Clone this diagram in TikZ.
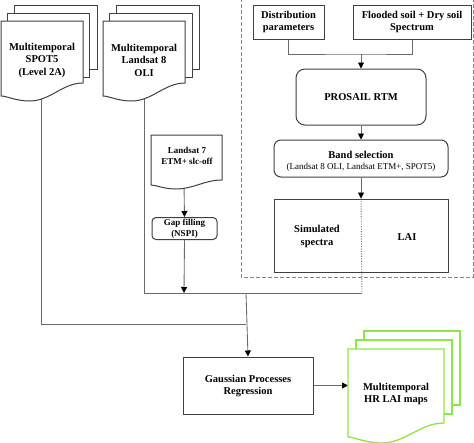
\documentclass[tikz,border=0pt]{standalone}
\usepackage{fontspec}
\setmainfont{Liberation Serif}
\usetikzlibrary{arrows.meta}
\definecolor{boxc}{HTML}{404040}
\definecolor{linec}{HTML}{6A6A6A}
\definecolor{dashc}{HTML}{858585}
\definecolor{greenc}{RGB}{140,232,70}
\newcommand{\docpage}[7]{%
  \pgfmathsetmacro\dw{#4-#2}%
  \pgfmathsetmacro\ca{#4-0.25*\dw}%
  \pgfmathsetmacro\cb{#2+0.6*\dw}%
  \pgfmathsetmacro\cm{#2+0.35*\dw}%
  \pgfmathsetmacro\cc{#2+0.18*\dw}%
  \pgfmathsetmacro\cd{#2+0.07*\dw}%
  \draw[#1] (#2,#3) -- (#4,#3) -- (#4,#5) .. controls (\ca,#5) and (\cb,#7) .. (\cm,#7) .. controls (\cc,#7) and (\cd,#6) .. (#2,#6) -- cycle;}
\begin{document}
\begin{tikzpicture}[x=1pt,y=-1pt,
  box/.style={draw=boxc, line width=1pt, fill=white, inner sep=0pt},
  rbox/.style={box, rounded corners=7pt},
  txt/.style={inner sep=0pt, align=center, font=\fontsize{10.5}{12.5}\selectfont\bfseries},
  stxt/.style={inner sep=0pt, align=center, font=\fontsize{9}{10.5}\selectfont\bfseries},
  page/.style={draw=boxc, line width=1pt, fill=white},
  gpage/.style={draw=greenc, line width=1.3pt, fill=white},
  conn/.style={draw=linec, line width=0.85pt},
  arr/.style={conn, -{Triangle[width=6pt,length=6pt,color=black]}},
  dotl/.style={draw=linec, line width=0.9pt, dash pattern=on 1pt off 1.5pt},
  dashbox/.style={draw=dashc, line width=1pt, dash pattern=on 4pt off 2pt}]
\useasboundingbox (0,0) rectangle (474,442);
\fill[white] (0,0) rectangle (474,442);

% dashed frame
\draw[dashbox] (241,-2) -- (241,277) -- (473,277) -- (473,-2);

% connector coordinates
\coordinate (spotout) at (41,95);
\coordinate (l8out) at (144,95);
\coordinate (l7out) at (184,184);
\coordinate (j1) at (246,293);
\coordinate (j2) at (246,324);
\coordinate (jd) at (362,293);
\coordinate (jl8) at (144,293);
\coordinate (jspot) at (41,324);
\coordinate (jgap) at (184,293);
\coordinate (jtop) at (361,54);

% boxes
\node[box, minimum width=71pt, minimum height=34pt] (dist) at (288.5,22) {};
\node[txt] (distt) at (288.5,22) {Distribution\\parameters};
\node[box, minimum width=118pt, minimum height=34pt] (flood) at (412,22) {};
\node[txt] (floodt) at (412,22) {Flooded soil + Dry soil\\Spectrum};
\node[rbox, rounded corners=9pt, minimum width=130pt, minimum height=56pt] (pro) at (361,97) {};
\node[txt] (prot) at (361,97) {PROSAIL RTM};
\node[rbox, minimum width=174pt, minimum height=37pt] (band) at (361,158.5) {};
\node[txt, anchor=base] (bandt) at (361,158.5) {Band selection};
\node[inner sep=0pt, font=\fontsize{9}{11}\selectfont, anchor=base] (bands) at (361,169.5) {(Landsat 8 OLI, Landsat ETM+, SPOT5)};
\node[box, minimum width=174pt, minimum height=73pt] (sim) at (361,235.5) {};
\node[txt] (simt) at (317,236.5) {Simulated\\spectra};
\node[txt] (lai) at (407,237) {LAI};
\node[rbox, rounded corners=4pt, minimum width=65pt, minimum height=22pt] (gap) at (184.5,228.5) {};
\node[stxt] (gapt) at (184.5,229) {Gap filling\\(NSPI)};
\node[box, minimum width=130pt, minimum height=57pt] (gpr) at (248,385.5) {};
\node[txt] (gprt) at (248,386) {Gaussian Processes\\Regression};

% connectors
\draw[conn] (dist.south) |- (jtop) -| (flood.south);
\draw[arr] (jtop) -- (pro.north);
\draw[arr] (pro.south) -- (band.north);
\draw[arr] (band.south) -- (sim.north);
\draw[dotl] (sim.north) -- (jd);
\draw[conn] (l8out) -- (jl8) -- (jd);
\draw[conn] (spotout) -- (jspot) -- (j2);
\draw[arr] (l7out) -- (gap.north);
\draw[arr] (gap.south) -- (jgap);
\draw[arr] (j1) -- (gpr.north);
\draw[arr] (gpr.east) -- (348,385.5) coordinate (hrin);

% SPOT5 stack
\draw[page] (14,5) rectangle (97,69);
\draw[page] (7,13) rectangle (89,77);
\docpage{page}{1}{21}{83}{83}{96}{101}
\node[txt] (spot) at (42,60) {Multitemporal\\SPOT5\\(Level 2A)};

% Landsat 8 stack
\draw[page] (116,5) rectangle (199,69);
\draw[page] (109,13) rectangle (192,77);
\docpage{page}{103}{21}{185}{83}{96}{101}
\node[txt] (l8) at (144,60) {Multitemporal\\Landsat 8\\OLI};

% Landsat 7
\docpage{page}{151}{135}{222}{180}{185}{189}
\node[stxt] (l7) at (187,156) {Landsat 7\\ETM+ slc-off};

% HR LAI maps
\draw[gpage] (364,331) rectangle (460,405);
\draw[gpage] (356,340) rectangle (452,414);
\docpage{gpage}{348}{349}{444}{423}{437}{443}
\node[txt] (hr) at (396,394) {Multitemporal\\HR LAI maps};
\end{tikzpicture}
\end{document}
